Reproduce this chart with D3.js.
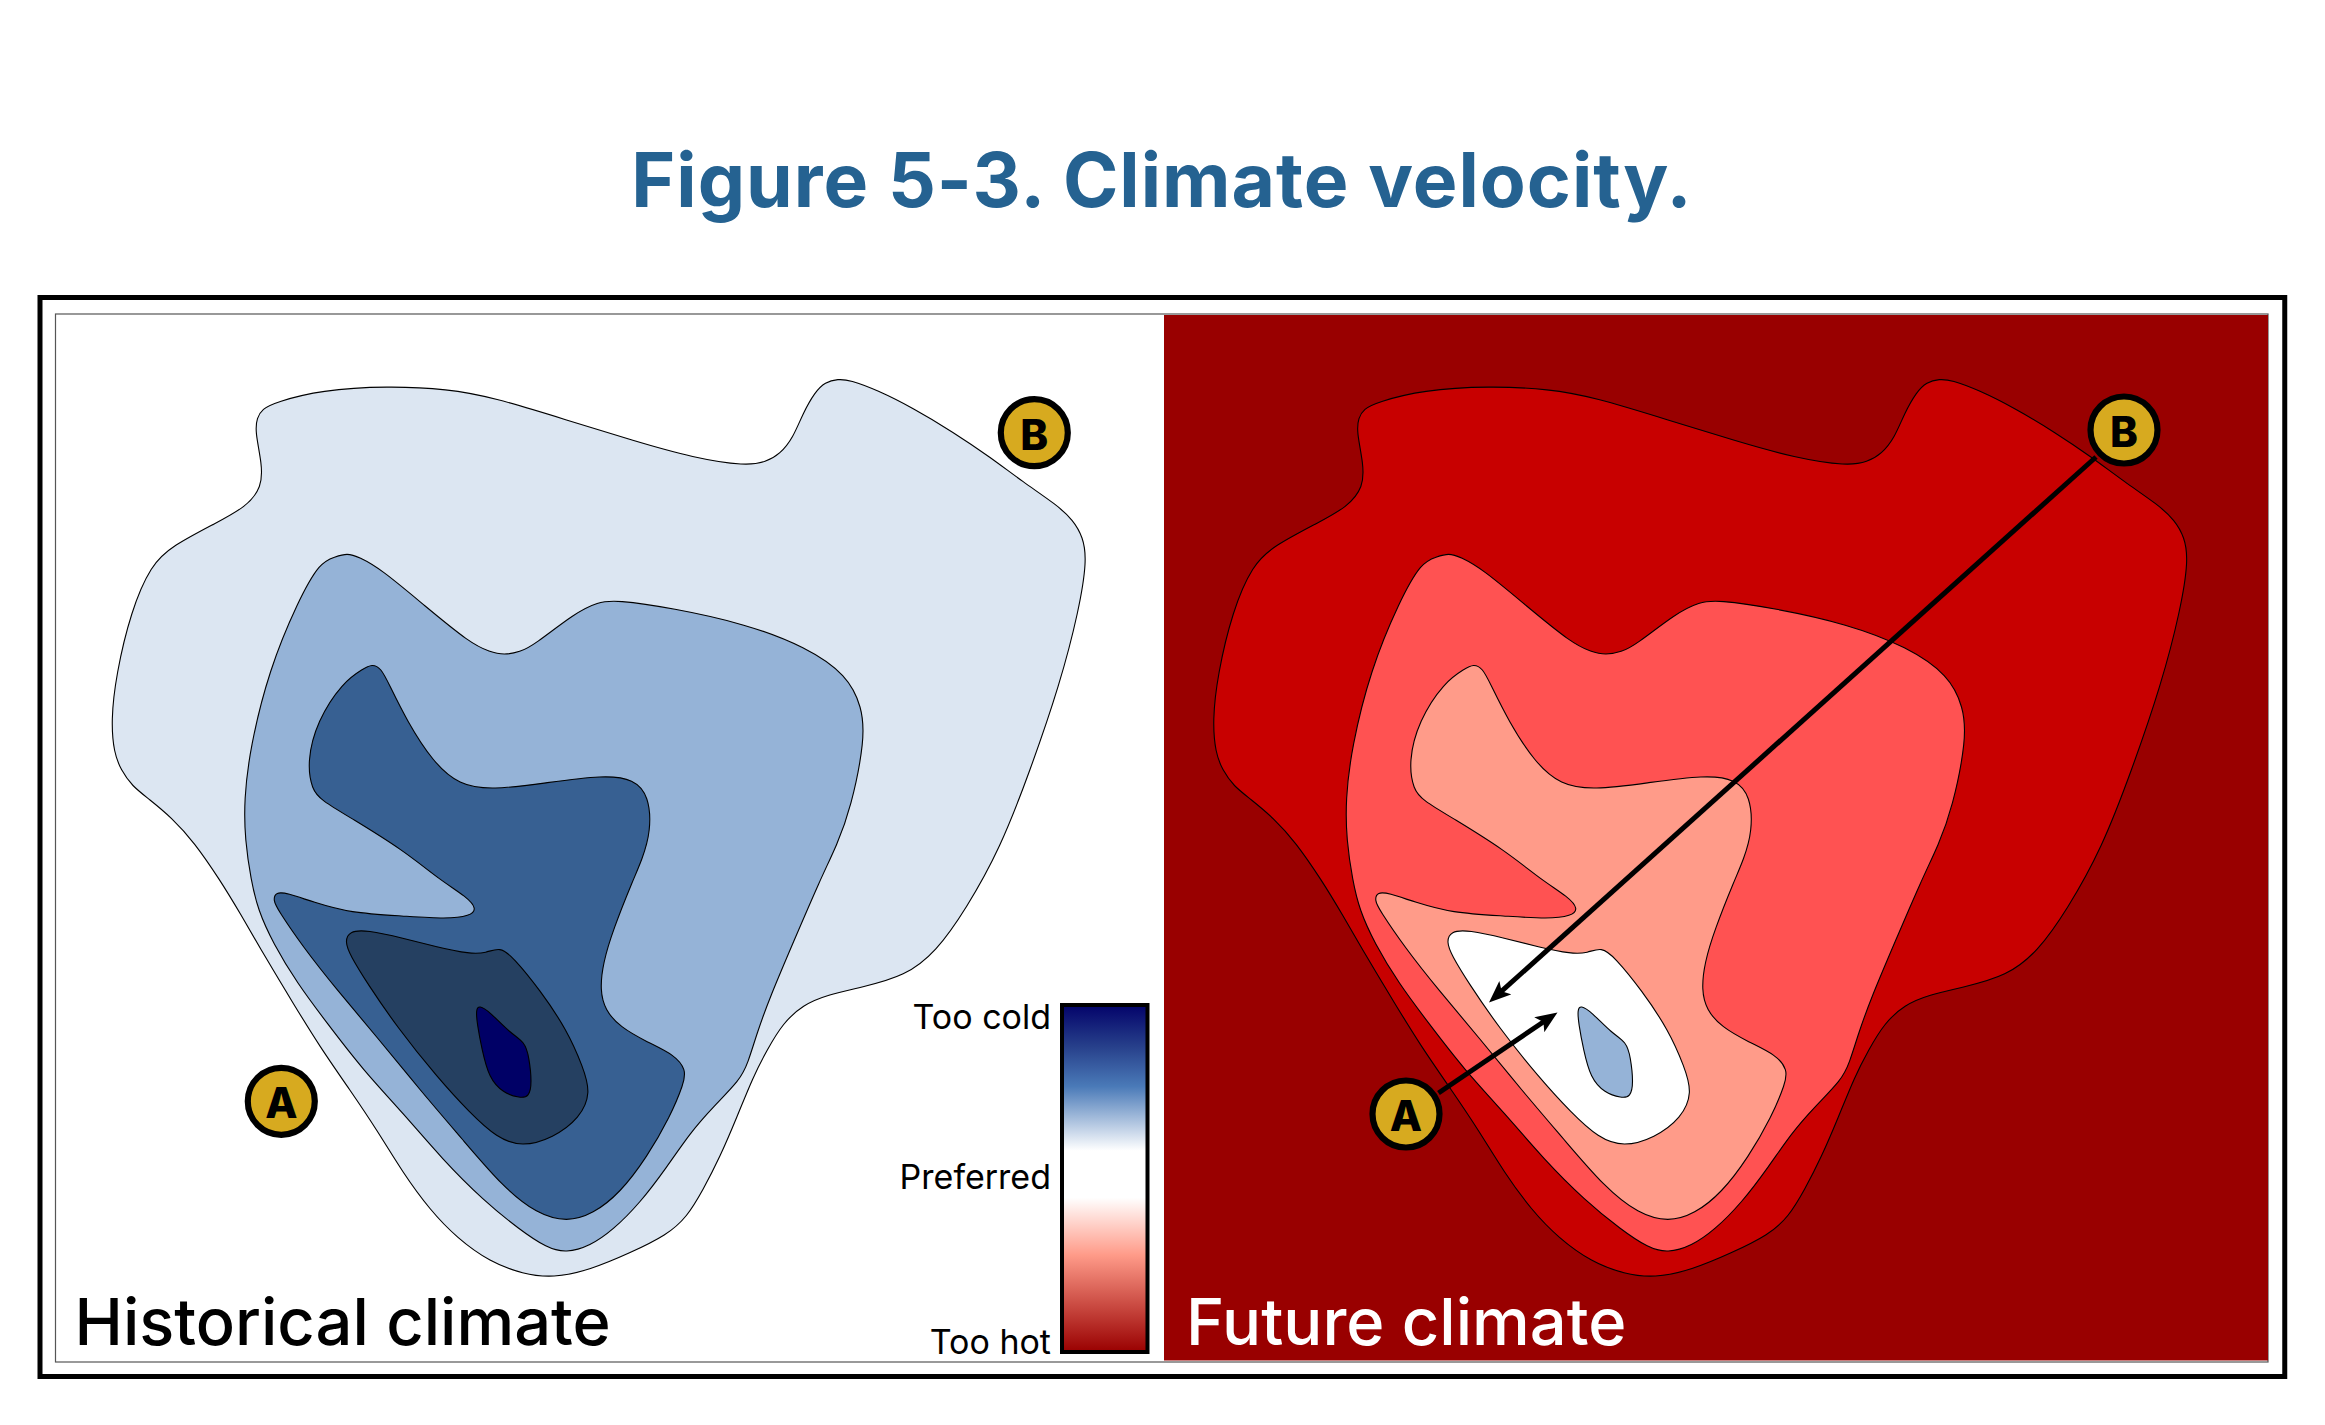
<!DOCTYPE html>
<html>
<head>
<meta charset="utf-8">
<title>Figure 5-3. Climate velocity.</title>
<script src="https://cdn.jsdelivr.net/npm/d3@7"></script>
<style>
    html, body { margin: 0; padding: 0; background: #fff; }
    svg { display: block; }
    text { font-family: Inter, Lato, sans-serif; }
</style>
</head>
<body>
<svg id="chart" width="2325" height="1425"></svg>
<script>
// climate bands, map units, outermost first
const bandOuter = [
    [257,418],[262,409],[276,402],[321,390],[388,386],[448,389],[492,397],[567,420],[634,441],[694,458],[746,466],
    [766,462],[780,454],[793,438],[803,413],[815,392],[825,382],[838,379],[850,380],[877,390],[913,408],[953,432],[990,457],
    [1023,482],[1057,505],[1073,520],[1083,537],[1087,560],[1079,610],[1060,684],[1030,771],[1000,849],[966,909],
    [936,952],[905,976],[863,987],[827,995],[803,1005],[783,1023],[767,1050],[753,1077],[737,1117],[720,1157],
    [703,1190],[687,1217],[667,1235],[630,1253],[590,1270],[553,1278],[523,1274],[490,1262],[457,1238],[430,1210],
    [403,1173],[377,1130],[350,1090],[320,1047],[293,1003],[267,960],[240,913],[220,880],[194,842],[172,818],
    [149,799],[132,786],[121,770],[114,753],[111,721],[116,675],[131,611],[151,565],[172,546],[216,523],
    [246,507],[262,487],[262,464],[255,431]
];
const bandLight = [
    [335,557],[347,553],[359,557],[381,569],[425,606],[470,643],[490,652],[504,655],[520,652],[534,645],[575,613],[598,602],[616,600],[672,608],[746,624],
    [806,647],[847,675],[862,707],[865,739],[851,808],[837,845],[820,880],[793,943],[770,997],[757,1033],
    [748,1063],[740,1080],[713,1107],[690,1133],[667,1167],[640,1203],[613,1230],[590,1246],[566,1253],[547,1248],
    [520,1230],[483,1200],[443,1160],[403,1113],[363,1070],[327,1023],[297,983],[273,943],[258,910],[251,880],
    [245,840],[244,800],[250,748],[269,670],[298,601],[320,562]
];
const bandMid = [
    [363,669],[372,664],[381,668],[389,684],[407,721],[433,762],[459,785],[492,790],[545,783],[604,775],[634,779],[649,796],
    [651,831],[642,860],[633,880],[613,930],[603,963],[600,990],[605,1010],[620,1027],[647,1042],[675,1055],
    [686,1070],[684,1083],[670,1117],[647,1157],[620,1193],[593,1214],[567,1222],[537,1214],[503,1187],[463,1140],
    [420,1090],[377,1037],[337,990],[303,947],[278,910],[273,900],[276,892],[287,893],[313,902],[350,913],
    [403,916],[447,919],[470,916],[477,909],[467,897],[440,880],[403,850],[351,818],[321,800],[312,790],
    [307,762],[317,721],[343,682]
];
const bandDeep = [
    [345,942],[349,931],[367,930],[403,938],[437,947],[470,954],[486,953],[500,947],[513,957],[540,990],[567,1030],
    [583,1067],[591,1093],[580,1118],[553,1138],[522,1147],[497,1138],[470,1113],[437,1077],[397,1027],[367,983],
    [350,955]
];
const bandCore = [
    [476,1010],[479,1005],[490,1012],[510,1033],[525,1042],[529,1057],[532,1083],[529,1097],[520,1098],[503,1093],
    [489,1078],[482,1050],[477,1023]
];
const bands = [bandOuter, bandLight, bandMid, bandDeep, bandCore];

const coldColors = ["#dce6f2", "#95b3d7", "#376092", "#254061", "#000066"];
const hotColors = ["#c80000", "#ff5252", "#ff9b89", "#ffffff", "#95b3d7"];
const hotBackground = "#990000";

// markers and arrows, map units
const coldMarkers = [["A", 281.3, 1101.3], ["B", 1034.3, 432.7]];
const hotMarkers = [["A", 304.5, 1114], ["B", 1022.5, 430]];
const arrows = [
    [[994.5, 457], [387.5, 1002.5]],
    [[337, 1093], [456, 1012.4]]
];

const legendStops = [
    [0, "#03036a"], [0.12, "#27408b"], [0.235, "#4a7ab8"], [0.42, "#ffffff"],
    [0.555, "#ffffff"], [0.72, "#ff9b89"], [1, "#990000"]
];
const legendLabels = [["Too cold", 1029], ["Preferred", 1189], ["Too hot", 1354]];

const svg = d3.select("#chart");

const mapDomain = [55, 1155];
const xCold = d3.scaleLinear().domain(mapDomain).range([55, 1155]);
const xHot = d3.scaleLinear().domain(mapDomain).range([1156.5, 2256.5]);
const y = d3.scaleLinear().domain([300, 1400]).range([300, 1400]);

svg.append("text")
    .attr("x", 1162)
    .attr("y", 206.5)
    .attr("text-anchor", "middle")
    .attr("font-size", 75)
    .attr("font-weight", 700)
    .attr("letter-spacing", 1)
    .attr("fill", "#256291")
    .text("Figure 5-3. Climate velocity.");

// frame
svg.append("rect")
    .attr("x", 40).attr("y", 297.5)
    .attr("width", 2244.75).attr("height", 1079)
    .attr("fill", "none").attr("stroke", "#000").attr("stroke-width", 5);
svg.append("rect")
    .attr("x", 55.5).attr("y", 314)
    .attr("width", 2212.5).attr("height", 1048)
    .attr("fill", "#fff").attr("stroke", "#555").attr("stroke-width", 1.2);

svg.append("rect")
    .attr("x", 1164).attr("y", 315)
    .attr("width", 1104).attr("height", 1045.5)
    .attr("fill", hotBackground);

function drawBands(x, colors) {
    const line = d3.line()
        .x(d => x(d[0]))
        .y(d => y(d[1]))
        .curve(d3.curveBasisClosed);

    svg.append("g")
        .selectAll("path")
        .data(bands)
        .join("path")
        .attr("d", line)
        .attr("fill", (d, i) => colors[i])
        .attr("stroke", "#000")
        .attr("stroke-width", 1.1);
}

drawBands(xCold, coldColors);
drawBands(xHot, hotColors);

// arrow heads
svg.append("defs").append("marker")
    .attr("id", "head")
    .attr("markerUnits", "userSpaceOnUse")
    .attr("viewBox", "0 -9 22 18")
    .attr("markerWidth", 22)
    .attr("markerHeight", 18)
    .attr("refX", 8)
    .attr("refY", 0)
    .attr("orient", "auto")
    .append("path")
    .attr("d", "M0,-9L22,0L0,9L5,0Z")
    .attr("fill", "#000");

svg.append("g")
    .selectAll("line")
    .data(arrows)
    .join("line")
    .each(function (d) {
        // stop the shaft short so that the head makes the tip
        const x1 = xHot(d[0][0]), y1 = y(d[0][1]);
        const x2 = xHot(d[1][0]), y2 = y(d[1][1]);
        const len = Math.hypot(x2 - x1, y2 - y1);
        d3.select(this)
            .attr("x1", x1).attr("y1", y1)
            .attr("x2", x2 - (x2 - x1) * 14 / len)
            .attr("y2", y2 - (y2 - y1) * 14 / len);
    })
    .attr("stroke", "#000")
    .attr("stroke-width", 5)
    .attr("marker-end", "url(#head)");

function drawMarkers(x, markers) {
    const g = svg.append("g")
        .selectAll("g")
        .data(markers)
        .join("g")
        .attr("transform", d => `translate(${x(d[1])},${y(d[2])})`);
    g.append("circle")
        .attr("r", 33.5)
        .attr("fill", "#d7aa1f")
        .attr("stroke", "#000")
        .attr("stroke-width", 6.2);
    g.append("text")
        .attr("text-anchor", "middle")
        .attr("y", 17)
        .attr("font-size", 42)
        .attr("font-weight", 800)
        .attr("fill", "#000")
        .text(d => d[0]);
}

drawMarkers(xCold, coldMarkers);
drawMarkers(xHot, hotMarkers);

// legend
const legendY = d3.scaleLinear().domain([0, 1]).range([1005, 1352]);
const gradient = svg.select("defs").append("linearGradient")
    .attr("id", "legendRamp")
    .attr("x1", 0).attr("x2", 0).attr("y1", 0).attr("y2", 1);
gradient.selectAll("stop")
    .data(legendStops)
    .join("stop")
    .attr("offset", d => d[0])
    .attr("stop-color", d => d[1]);

svg.append("rect")
    .attr("x", 1062).attr("y", legendY(0))
    .attr("width", 85.5).attr("height", legendY(1) - legendY(0))
    .attr("fill", "url(#legendRamp)")
    .attr("stroke", "#000")
    .attr("stroke-width", 4);

svg.append("g")
    .selectAll("text")
    .data(legendLabels)
    .join("text")
    .attr("x", 1051)
    .attr("y", d => d[1])
    .attr("text-anchor", "end")
    .attr("font-size", 34)
    .attr("fill", "#000")
    .text(d => d[0]);

// panel captions
svg.append("text")
    .attr("x", 74.5).attr("y", 1345)
    .attr("font-size", 65)
    .attr("font-weight", 500)
    .attr("fill", "#000")
    .text("Historical climate");
svg.append("text")
    .attr("x", 1186).attr("y", 1345)
    .attr("font-size", 65)
    .attr("font-weight", 500)
    .attr("fill", "#fff")
    .text("Future climate");
</script>
</body>
</html>
